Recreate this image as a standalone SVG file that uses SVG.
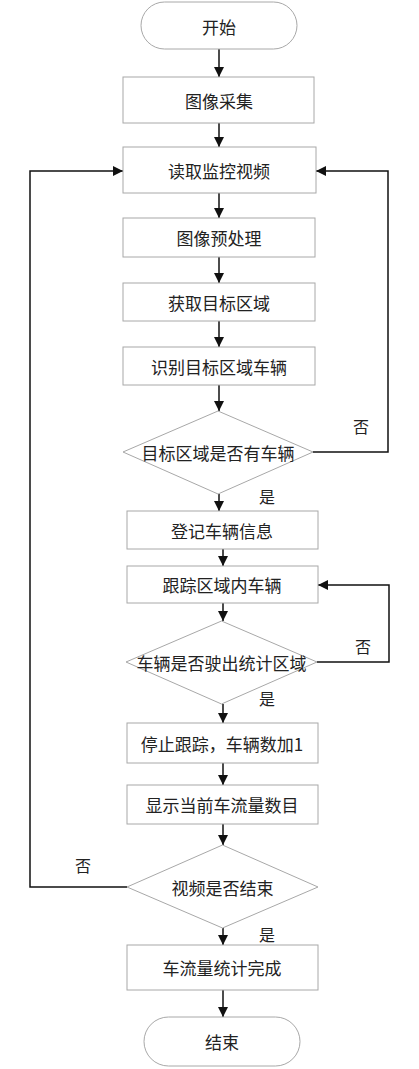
<svg xmlns="http://www.w3.org/2000/svg" width="419" height="1069" viewBox="0 0 419 1069">
<defs>
<style>
.n{fill:#fff;stroke:#a8a8a8;stroke-width:1}
.t{font-family:"Noto Sans CJK SC","Noto Sans CJK JP",sans-serif;font-size:17px;fill:#222;text-anchor:middle;dominant-baseline:central}
.l{font-family:"Noto Sans CJK SC","Noto Sans CJK JP",sans-serif;font-size:16px;fill:#222;text-anchor:middle;dominant-baseline:central}
.c{fill:none;stroke:#111;stroke-width:1.5}
</style>
<marker id="a" viewBox="0 0 10 10" refX="10" refY="5" markerWidth="10" markerHeight="10" markerUnits="userSpaceOnUse" orient="auto">
<path d="M0,0 L10,5 L0,10 z" fill="#111"/>
</marker>
</defs>
<rect width="419" height="1069" fill="#fff"/>
<g id="connectors">
<path class="c" marker-end="url(#a)" d="M219,49 V77"/>
<path class="c" marker-end="url(#a)" d="M219,123 V147"/>
<path class="c" marker-end="url(#a)" d="M219,193 V218"/>
<path class="c" marker-end="url(#a)" d="M219,257 V283"/>
<path class="c" marker-end="url(#a)" d="M219,321 V347"/>
<path class="c" marker-end="url(#a)" d="M219,385 V411"/>
<path class="c" marker-end="url(#a)" d="M219,494 V511"/>
<path class="c" marker-end="url(#a)" d="M313,452 H388 V171 H316"/>
<path class="c" marker-end="url(#a)" d="M223,549 V566"/>
<path class="c" marker-end="url(#a)" d="M223,603 V621"/>
<path class="c" marker-end="url(#a)" d="M317,662 H389 V585 H318"/>
<path class="c" marker-end="url(#a)" d="M223,704 V723"/>
<path class="c" marker-end="url(#a)" d="M223,763 V785"/>
<path class="c" marker-end="url(#a)" d="M223,824 V845"/>
<path class="c" marker-end="url(#a)" d="M127,887 H30 V171 H123"/>
<path class="c" marker-end="url(#a)" d="M223,928 V945"/>
<path class="c" marker-end="url(#a)" d="M223,990 V1017"/>
<text class="l" x="361" y="426">否</text>
<text class="l" x="267" y="496">是</text>
<text class="l" x="363" y="646">否</text>
<text class="l" x="267" y="698">是</text>
<text class="l" x="83" y="865">否</text>
<text class="l" x="267" y="934">是</text>
</g>
<g id="start"><rect class="n" x="141" y="2" width="156" height="47" rx="23.5"/><text class="t" x="219" y="26">开始</text></g>
<g id="capture"><rect class="n" x="123" y="77" width="191" height="46"/><text class="t" x="219" y="100">图像采集</text></g>
<g id="read"><rect class="n" x="123" y="147" width="193" height="46"/><text class="t" x="219" y="170">读取监控视频</text></g>
<g id="preprocess"><rect class="n" x="123" y="218" width="192" height="39"/><text class="t" x="219" y="237">图像预处理</text></g>
<g id="region"><rect class="n" x="123" y="283" width="192" height="38"/><text class="t" x="219" y="302">获取目标区域</text></g>
<g id="recognize"><rect class="n" x="123" y="347" width="192" height="38"/><text class="t" x="219" y="366">识别目标区域车辆</text></g>
<g id="hasVehicle"><polygon class="n" points="218,411 313,452 218,494 123,452"/><text class="t" x="218" y="452">目标区域是否有车辆</text></g>
<g id="register"><rect class="n" x="127" y="511" width="191" height="38"/><text class="t" x="222" y="530">登记车辆信息</text></g>
<g id="track"><rect class="n" x="127" y="566" width="191" height="37"/><text class="t" x="222" y="584">跟踪区域内车辆</text></g>
<g id="leftRegion"><polygon class="n" points="221.5,621 317,662 221.5,704 126,662"/><text class="t" x="221.5" y="662">车辆是否驶出统计区域</text></g>
<g id="stopTrack"><rect class="n" x="127" y="723" width="191" height="40"/><text class="t" x="222" y="743">停止跟踪，车辆数加1</text></g>
<g id="display"><rect class="n" x="127" y="785" width="191" height="39"/><text class="t" x="222" y="804">显示当前车流量数目</text></g>
<g id="videoEnd"><polygon class="n" points="222.5,845 318,887 222.5,928 127,887"/><text class="t" x="222.5" y="887">视频是否结束</text></g>
<g id="done"><rect class="n" x="127" y="945" width="191" height="45"/><text class="t" x="222" y="967">车流量统计完成</text></g>
<g id="end"><rect class="n" x="144" y="1017" width="156" height="49" rx="24.5"/><text class="t" x="222" y="1041">结束</text></g>
</svg>
